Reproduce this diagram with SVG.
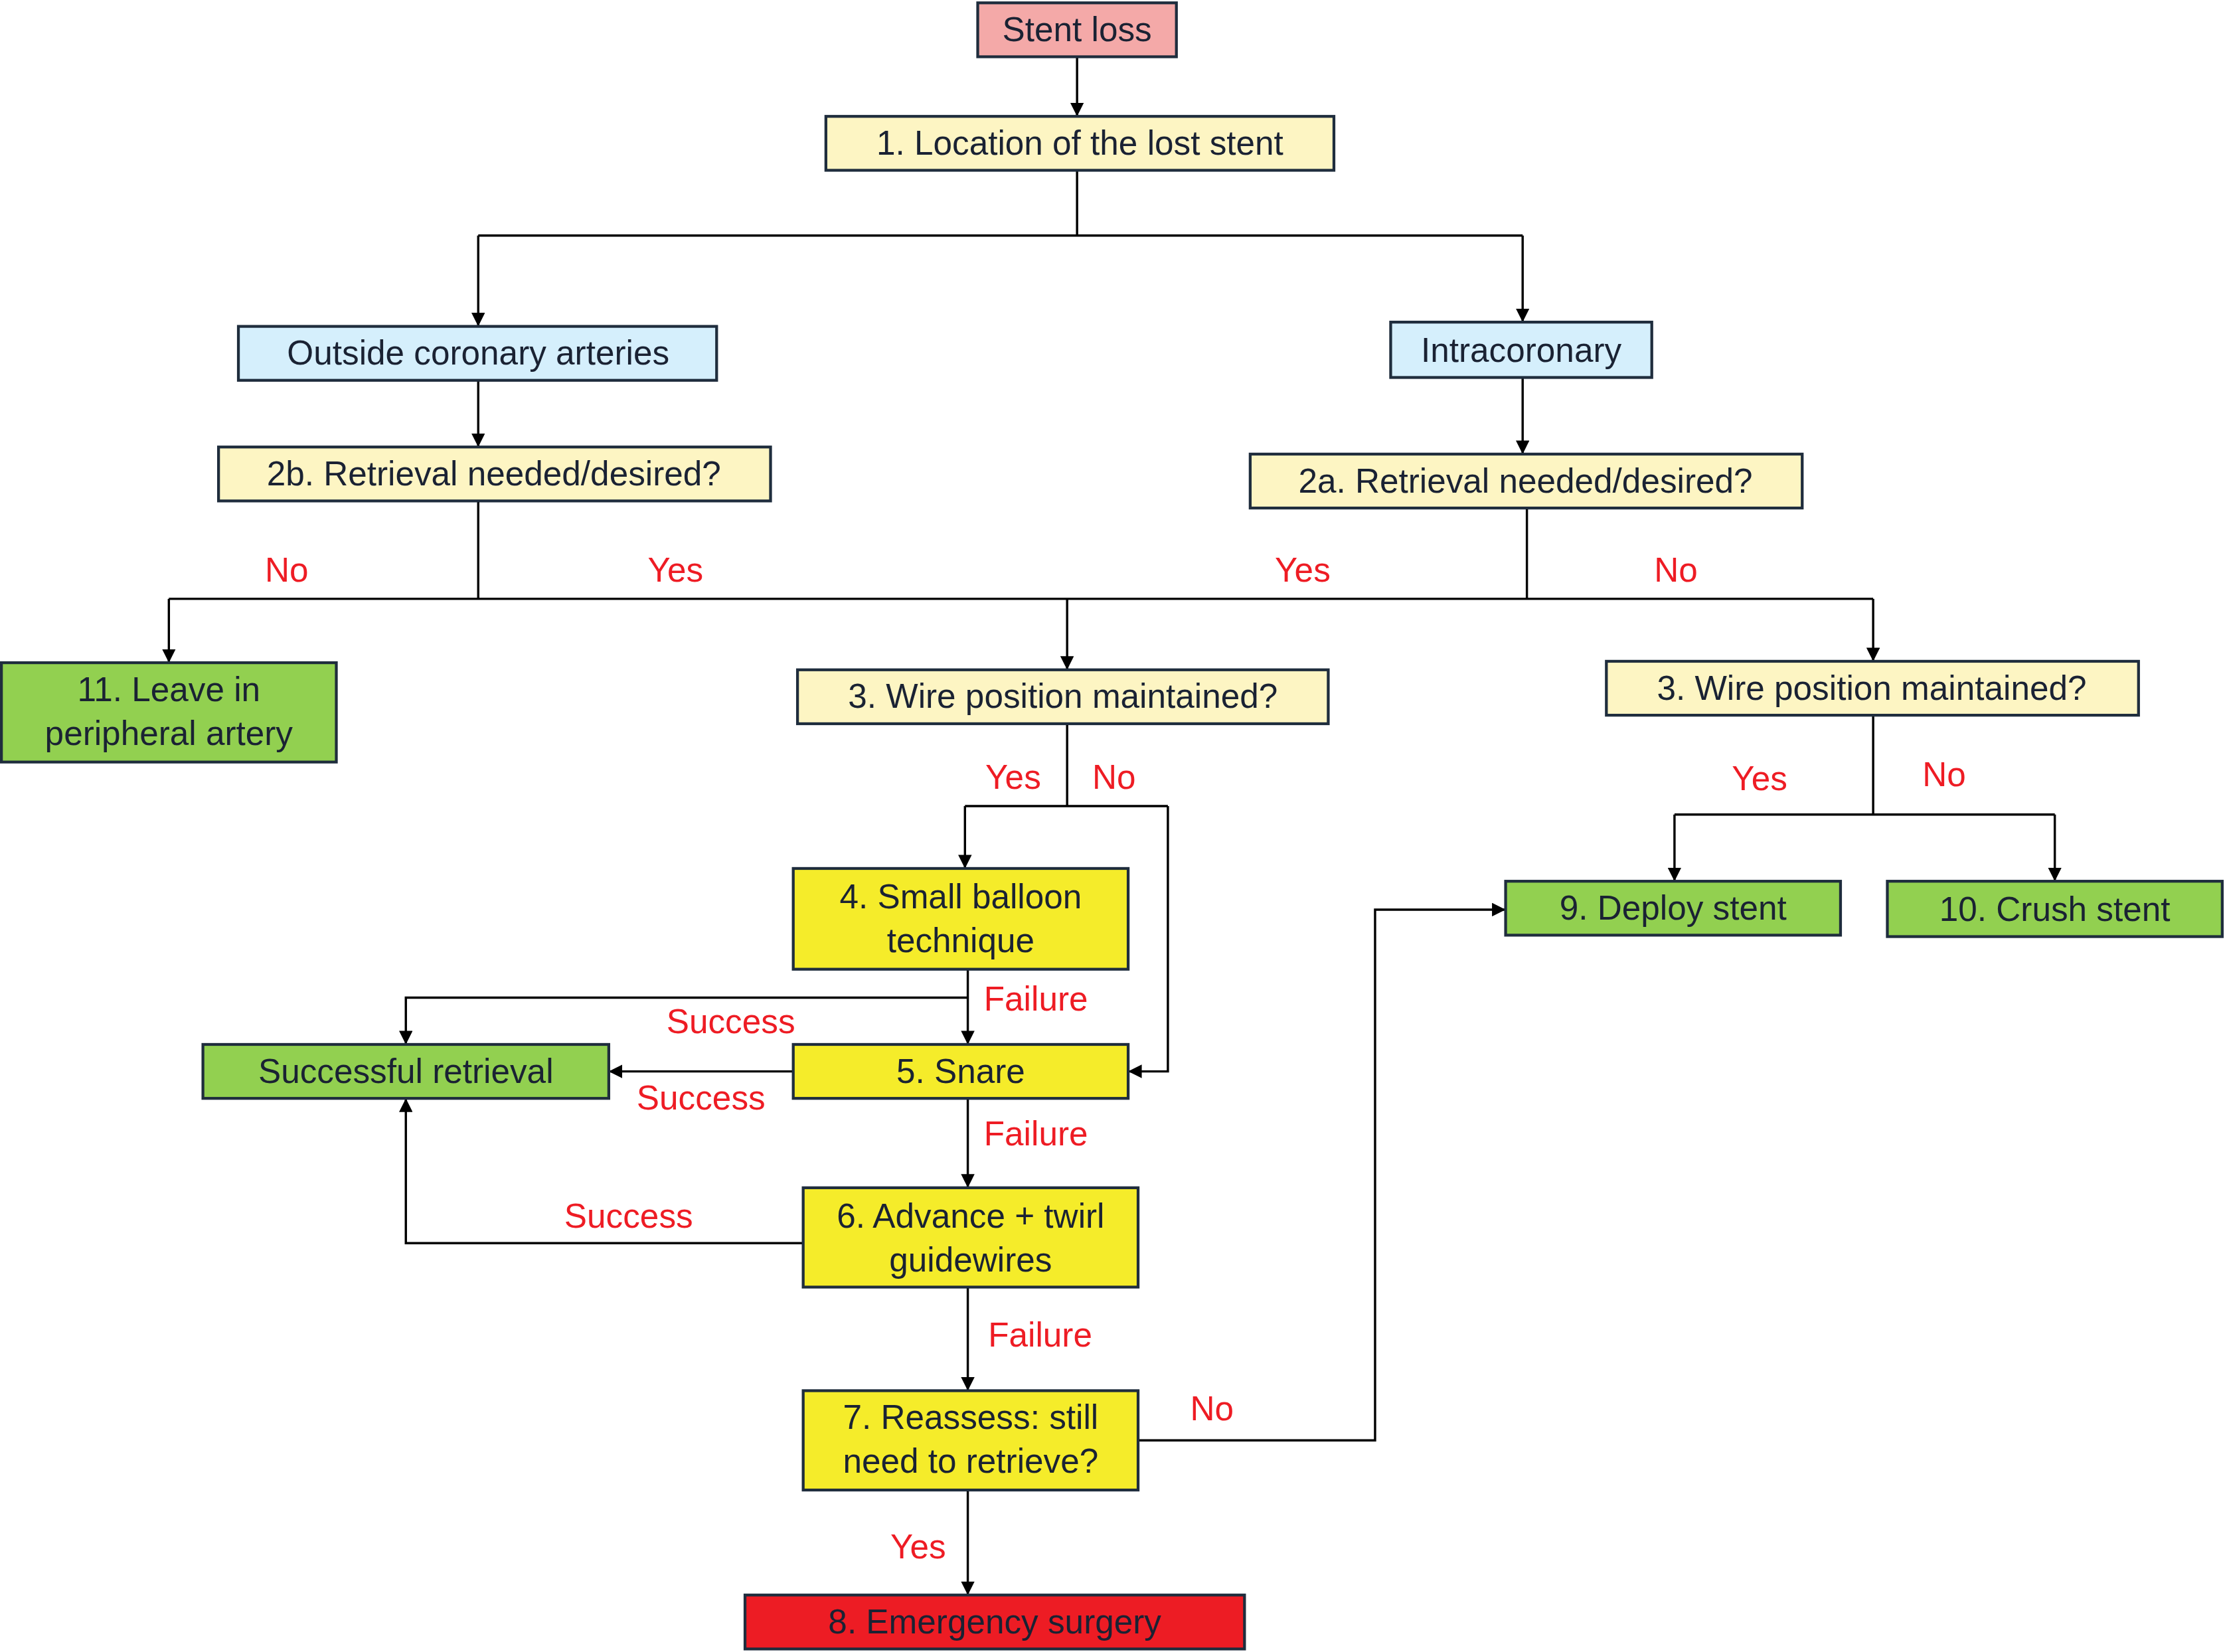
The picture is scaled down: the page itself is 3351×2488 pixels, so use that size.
<svg xmlns="http://www.w3.org/2000/svg" width="3351" height="2488" viewBox="0 0 3351 2488">
<defs>
<marker id="a" viewBox="0 0 10 10" refX="10" refY="5" markerWidth="6" markerHeight="6" orient="auto" markerUnits="strokeWidth"><path d="M0,0 L10,5 L0,10 z" fill="#000"/></marker>
<style>
.n{stroke:#1f2d3d;stroke-width:2}
.p{fill:#f4a9a8}.y{fill:#fdf5c3}.b{fill:#d5effc}.g{fill:#92d050}.k{fill:#f5ec2a}.r{fill:#ed1c24}
text{font-family:"Liberation Sans",Arial,sans-serif;font-size:24px;fill:#1a2233;text-anchor:middle}
.l{fill:#ee1c24}
.c{fill:none;stroke:#000;stroke-width:1.6}
.c.m{marker-end:url(#a)}
</style>
</defs>
<rect width="3351" height="2488" fill="#fff"/>
<g transform="scale(2.1372)">
<g id="connectors">
<path class="c m" d="M759,40V82"/>
<path class="c" d="M759,120V166M337,166H1073"/>
<path class="c m" d="M337,166V230"/><path class="c m" d="M1073,166V227"/>
<path class="c m" d="M337,268V315"/><path class="c m" d="M1073,266V320"/>
<path class="c" d="M337,353V422M1076,358V422M119,422H1320"/>
<path class="c m" d="M119,422V467"/><path class="c m" d="M752,422V472"/><path class="c m" d="M1320,422V466"/>
<path class="c" d="M752,510V568M680,568H823"/>
<path class="c m" d="M680,568V612"/><path class="c m" d="M823,568V755H795"/>
<path class="c" d="M1320,504V574M1180,574H1448"/>
<path class="c m" d="M1180,574V621"/><path class="c m" d="M1448,574V621"/>
<path class="c m" d="M682,683V736"/><path class="c m" d="M682,703H286V736"/>
<path class="c m" d="M559,755H429"/>
<path class="c m" d="M682,774V837"/>
<path class="c m" d="M566,876H286V774"/>
<path class="c m" d="M682,907V980"/>
<path class="c m" d="M802,1015H969V641H1061"/>
<path class="c m" d="M682,1050V1124"/>
<text class="l" x="202" y="410">No</text><text class="l" x="476" y="410">Yes</text>
<text class="l" x="918" y="410">Yes</text><text class="l" x="1181" y="410">No</text>
<text class="l" x="714" y="556">Yes</text><text class="l" x="785" y="556">No</text>
<text class="l" x="1240" y="557">Yes</text><text class="l" x="1370" y="554">No</text>
<text class="l" x="730" y="712">Failure</text><text class="l" x="515" y="728">Success</text>
<text class="l" x="494" y="782">Success</text><text class="l" x="730" y="807">Failure</text>
<text class="l" x="443" y="865">Success</text><text class="l" x="733" y="949">Failure</text>
<text class="l" x="854" y="1001">No</text><text class="l" x="647" y="1098">Yes</text>
</g>
<g id="n0"><rect class="n p" x="689" y="2" width="140" height="38"/><text x="759" y="29">Stent loss</text></g>
<g id="n1"><rect class="n y" x="582" y="82" width="358" height="38"/><text x="761" y="109">1. Location of the lost stent</text></g>
<g id="nOut"><rect class="n b" x="168" y="230" width="337" height="38"/><text x="337" y="257">Outside coronary arteries</text></g>
<g id="nIn"><rect class="n b" x="980" y="227" width="184" height="39"/><text x="1072" y="255">Intracoronary</text></g>
<g id="n2b"><rect class="n y" x="154" y="315" width="389" height="38"/><text x="348" y="342">2b. Retrieval needed/desired?</text></g>
<g id="n2a"><rect class="n y" x="881" y="320" width="389" height="38"/><text x="1075" y="347">2a. Retrieval needed/desired?</text></g>
<g id="n11"><rect class="n g" x="1" y="467" width="236" height="70"/><text x="119" y="494">11. Leave in</text><text x="119" y="525">peripheral artery</text></g>
<g id="n3a"><rect class="n y" x="562" y="472" width="374" height="38"/><text x="749" y="499">3. Wire position maintained?</text></g>
<g id="n3b"><rect class="n y" x="1132" y="466" width="375" height="38"/><text x="1319" y="493">3. Wire position maintained?</text></g>
<g id="n4"><rect class="n k" x="559" y="612" width="236" height="71"/><text x="677" y="640">4. Small balloon</text><text x="677" y="671">technique</text></g>
<g id="nS"><rect class="n g" x="143" y="736" width="286" height="38"/><text x="286" y="763">Successful retrieval</text></g>
<g id="n5"><rect class="n k" x="559" y="736" width="236" height="38"/><text x="677" y="763">5. Snare</text></g>
<g id="n9"><rect class="n g" x="1061" y="621" width="236" height="38"/><text x="1179" y="648">9. Deploy stent</text></g>
<g id="n10"><rect class="n g" x="1330" y="621" width="236" height="39"/><text x="1448" y="649">10. Crush stent</text></g>
<g id="n6"><rect class="n k" x="566" y="837" width="236" height="70"/><text x="684" y="865">6. Advance + twirl</text><text x="684" y="896">guidewires</text></g>
<g id="n7"><rect class="n k" x="566" y="980" width="236" height="70"/><text x="684" y="1007">7. Reassess: still</text><text x="684" y="1038">need to retrieve?</text></g>
<g id="n8"><rect class="n r" x="525" y="1124" width="352" height="38"/><text x="701" y="1151">8. Emergency surgery</text></g>
</g>
</svg>
